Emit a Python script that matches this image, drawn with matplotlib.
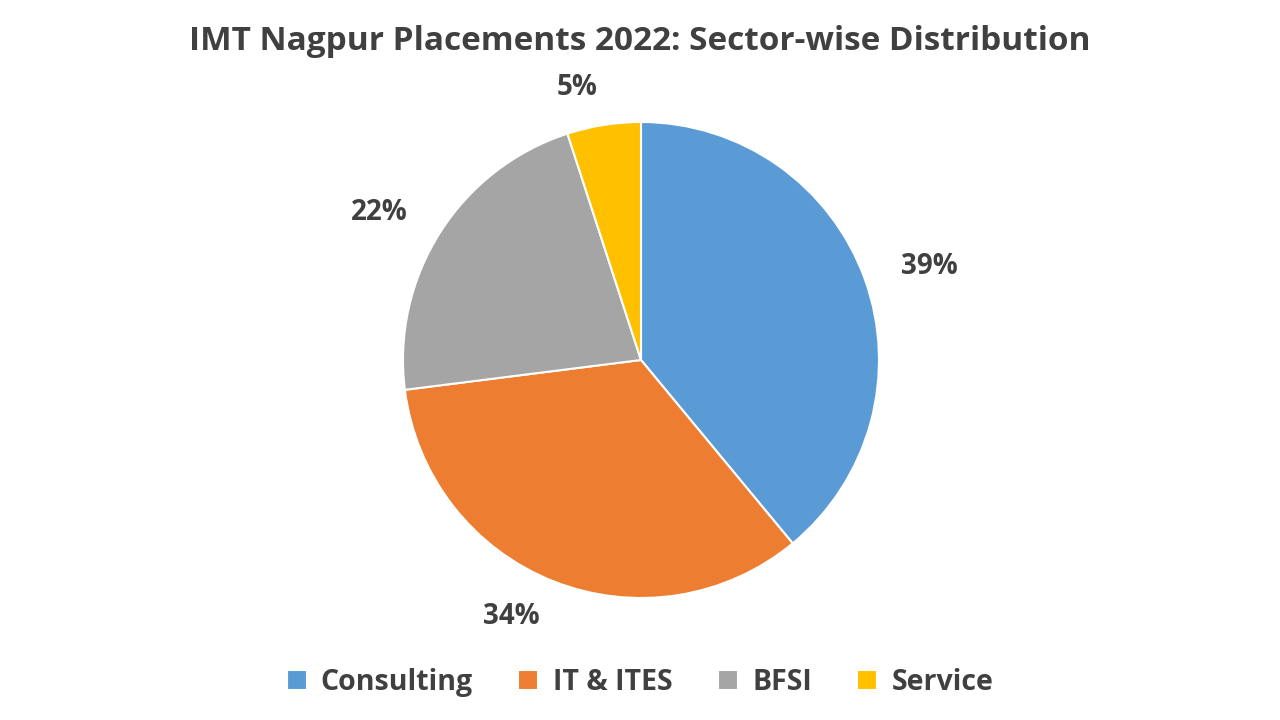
import matplotlib.pyplot as plt

sectors = ["Consulting", "IT & ITES", "BFSI", "Service"]
shares = [39, 34, 22, 5]
colors = ["#5B9BD5", "#ED7D31", "#A5A5A5", "#FFC000"]

plt.rcParams["font.family"] = ["Open Sans", "DejaVu Sans"]
text_color = "#404040"

fig = plt.figure(figsize=(12.8, 7.2), dpi=100)
cx, cy, r = 641, 360, 238
ax = fig.add_axes([(cx - r) / 1280, (720 - cy - r) / 720, 2 * r / 1280, 2 * r / 720])

wedges, texts = ax.pie(
    shares, colors=colors, startangle=90, counterclock=False, radius=1,
    labels=[f"{v}%" for v in shares], labeldistance=1.16,
    wedgeprops=dict(edgecolor="white", linewidth=1.5),
    textprops=dict(fontsize=20, fontweight="bold", color=text_color),
)
ax.set_xlim(-1, 1)
ax.set_ylim(-1, 1)
ax.set_aspect("equal")

fig.suptitle("IMT Nagpur Placements 2022: Sector-wise Distribution", y=0.965,
             fontsize=24, fontweight="bold", color=text_color)
fig.legend(wedges, sectors, loc="center", bbox_to_anchor=(0.5, 0.052), ncol=4,
           frameon=False, handlelength=0.7, handleheight=0.7,
           columnspacing=1.6, handletextpad=0.5,
           prop=dict(weight="bold", size=20.5))
for t in fig.legends[0].get_texts():
    t.set_color(text_color)

fig.savefig("out.png", dpi=100)
